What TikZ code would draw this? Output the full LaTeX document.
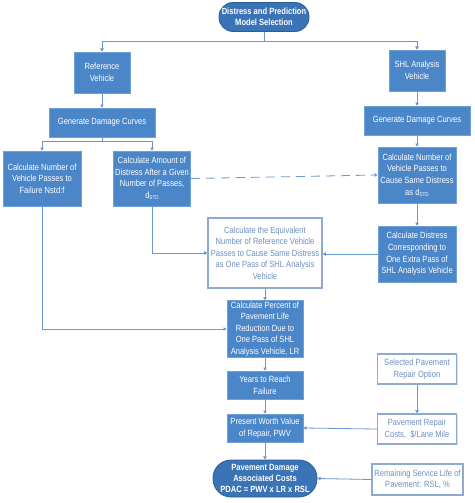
\documentclass[tikz,border=0pt]{standalone}
\usepackage{fontspec}
\setmainfont{Liberation Sans}[FakeStretch=0.84]
\usetikzlibrary{arrows.meta,shadows}
\definecolor{boxblue}{HTML}{4A86C8}
\definecolor{boxedge}{HTML}{6FA0D8}
\definecolor{ovalblue}{HTML}{3B74B6}
\definecolor{ovaledge}{HTML}{2C5D96}
\definecolor{linec}{HTML}{6A97CF}
\definecolor{wedge}{HTML}{8FAAD0}
\definecolor{wtext}{HTML}{6E8FC0}
\newcommand{\dstd}{d\raisebox{-0.25ex}{\fontsize{5.5}{6}\selectfont STD}}
\tikzset{
  base/.style={align=center,inner sep=1pt,font=\fontsize{9}{11.6}\selectfont},
  bluebox/.style={base,rectangle,fill=boxblue,draw=boxedge,line width=0.6pt,text=white},
  whitebox/.style={base,rectangle,fill=white,draw=wedge,line width=1.2pt,text=wtext,
    drop shadow={opacity=0.25,shadow xshift=1pt,shadow yshift=-1pt}},
  oval/.style={base,rectangle,fill=ovalblue,draw=ovaledge,line width=0.8pt,text=white,font=\fontsize{9}{11.4}\selectfont\bfseries},
  conn/.style={draw=linec,line width=0.8pt,-{Triangle[length=3.2pt,width=3.4pt]}},
  plain/.style={draw=linec,line width=0.8pt}
}
\begin{document}
\begin{tikzpicture}[x=1pt,y=-1pt]
\useasboundingbox (0,0) rectangle (474,503);
% nodes
\node[oval,minimum width=90,minimum height=29,rounded corners=14pt] (top) at (264,17) {Distress and Prediction\\Model Selection};
\node[bluebox,minimum width=56,minimum height=41] (ref) at (102,72.5) {Reference\\Vehicle};
\node[bluebox,minimum width=56,minimum height=41] (shl) at (417,70.5) {SHL Analysis\\Vehicle};
\node[bluebox,minimum width=106,minimum height=29] (gdcL) at (102,122.5) {Generate Damage Curves};
\node[bluebox,minimum width=106,minimum height=29] (gdcR) at (417,120.5) {Generate Damage Curves};
\node[bluebox,minimum width=78,minimum height=55] (calcN) at (42,178.5) {Calculate Number of\\Vehicle Passes to\\Failure Nstd:f};
\node[bluebox,minimum width=77,minimum height=55] (calcA) at (152,178.5) {Calculate Amount of\\Distress After a Given\\Number of Passes,\\\dstd};
\node[bluebox,minimum width=78,minimum height=56] (calcS) at (417,175) {Calculate Number of\\Vehicle Passes to\\Cause Same Distress\\as \dstd};
\node[bluebox,minimum width=78,minimum height=56] (calcD) at (417,254) {Calculate Distress\\Corresponding to\\One Extra Pass of\\SHL Analysis Vehicle};
\node[whitebox,minimum width=114,minimum height=70] (equiv) at (265,253) {Calculate the Equivalent\\Number of Reference Vehicle\\Passes to Cause Same Distress\\as One Pass of SHL Analysis\\Vehicle};
\node[bluebox,minimum width=76,minimum height=56] (pct) at (265,329) {Calculate Percent of\\Pavement Life\\Reduction Due to\\One Pass of SHL\\Analysis Vehicle, LR};
\node[bluebox,minimum width=76,minimum height=28] (years) at (265,385) {Years to Reach\\Failure};
\node[bluebox,minimum width=76,minimum height=28] (pwv) at (265,428) {Present Worth Value\\of Repair, PWV};
\node[oval,minimum width=104,minimum height=37,rounded corners=18pt] (pdac) at (265,478.5) {Pavement Damage\\Associated Costs\\PDAC = PWV x LR x RSL};
\node[whitebox,minimum width=79,minimum height=30] (sel) at (417,369) {Selected Pavement\\Repair Option};
\node[whitebox,minimum width=79,minimum height=30] (cost) at (417,429) {Pavement Repair\\Costs,\ \ \$/Lane Mile};
\node[whitebox,minimum width=91,minimum height=31] (rsl) at (417.5,479.5) {Remaining Service Life of\\Pavement: RSL, \%};
% junctions
\coordinate (j1) at (264,41);
\coordinate (j2) at (102,141);
% connectors
\draw[plain] (top.south) -- (j1);
\draw[conn] (j1) -| (ref.north);
\draw[conn] (j1) -| (shl.north);
\draw[conn] (ref) -- (gdcL);
\draw[conn] (shl) -- (gdcR);
\draw[plain] (gdcL.south) -- (j2);
\draw[conn] (j2) -| (calcN.north);
\draw[conn] (j2) -| (calcA.north);
\draw[conn] (gdcR) -- (calcS);
\draw[conn,dash pattern=on 9pt off 6pt] (calcA.east) -- (calcS.west);
\draw[conn] (calcS) -- (calcD);
\draw[conn] (calcA.south) |- (equiv.west);
\draw[conn] (calcD.west) -- (equiv.east |- calcD.west);
\draw[conn] (equiv) -- (pct);
\draw[conn] (calcN.south) |- (pct.west);
\draw[conn] (pct) -- (years);
\draw[conn] (years) -- (pwv);
\draw[conn] (pwv) -- (pdac);
\draw[conn] (sel) -- (cost);
\draw[conn] (cost.west) -- (pwv.east);
\draw[conn] (rsl.west) -- (pdac.east);
\end{tikzpicture}
\end{document}
